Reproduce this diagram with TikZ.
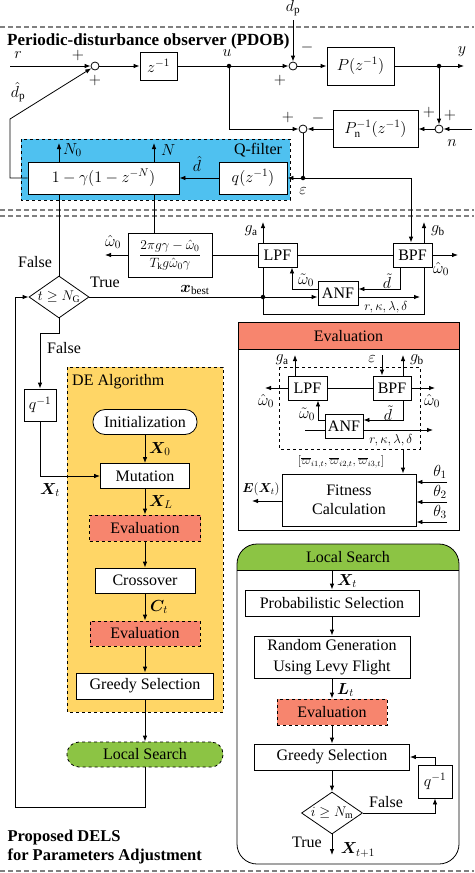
\RequirePackage{fix-cm}
\documentclass[tikz,border=0pt]{standalone}
\usepackage{amsmath}
\usepackage{amssymb}
\usepackage{bm}
\usepackage{fontspec}
\setmainfont{Liberation Serif}
\usetikzlibrary{arrows.meta}
\usetikzlibrary{shapes.geometric}
\usetikzlibrary{calc}
\definecolor{qblue}{RGB}{79,193,240}
\definecolor{deyel}{RGB}{255,214,102}
\definecolor{evred}{RGB}{247,133,110}
\definecolor{lsgreen}{RGB}{140,196,68}
\tikzset{
	wire/.style={line width=0.8pt},
	sig/.style={wire, ->},
	blk/.style={draw, fill=white, line width=0.8pt, inner sep=1pt},
	evalbox/.style={draw, dashed, fill=evred, line width=0.8pt, inner sep=1pt},
	sumpt/.style={circle, draw, fill=white, line width=0.8pt, inner sep=0pt, minimum size=8pt},
	dotpt/.style={circle, fill, inner sep=0pt, minimum size=4.5pt},
	cond/.style={diamond, draw, fill=white, aspect=1.45, inner sep=0pt, line width=0.8pt,
		font=\fontsize{14}{16}\selectfont},
	lbl/.style={inner sep=1pt},
	small/.style={inner sep=1pt, font=\fontsize{13}{15}\selectfont},
	divline/.style={gray, line width=1.2pt, dash pattern=on 5pt off 3pt},
	ttl/.style={anchor=west, align=left, font=\fontsize{16.5}{19.5}\selectfont\bfseries},
}
\newcommand{\pmsign}[4] % name, x in px, y in px, sign
{
	\node[inner sep=0pt] (#1) at (#2,#3) {$#4$};
}

\begin{document}
\begin{tikzpicture}[x=1pt, y=-1pt, font=\fontsize{16}{18}\selectfont,
	>={Latex[length=6pt,width=4.5pt]}]
	% 474 x 873 px, y downwards
	\useasboundingbox (0,0) rectangle (474,873);
	\draw[divline] (0,27) -- (474,27);
	\draw[divline] (0,210) -- (474,210);
	\draw[divline] (0,216) -- (474,216);
	\draw[divline] (0,871) -- (474,871);
	\node[ttl, anchor=base west, inner sep=0pt, font=\fontsize{17}{20}\selectfont\bfseries] (ttlA) at (7,45)
		{Periodic-disturbance observer (PDOB)};
	\node[ttl] (ttlB) at (4,847) {Proposed DELS\\for Parameters Adjustment};

	% Q-filter area
	\draw[fill=qblue, dashed, line width=0.8pt] (21,139) rectangle (290,200);
	\node[lbl] (qlbl) at (258,150) {Q-filter};

	% PDOB loop
	\node[sumpt] (sA) at (95,66) {};
	\node[blk, minimum width=37pt, minimum height=28pt] (zinv) at (158.5,66) {$z^{-1}$};
	\node[dotpt] (uD) at (229,66) {};
	\node[sumpt] (sB) at (293,66) {};
	\node[blk, minimum width=67pt, minimum height=38pt] (plant) at (360.5,66) {$P(z^{-1})$};
	\node[dotpt] (yD) at (439,66) {};
	\node[sumpt] (sC) at (439,129) {};
	\node[blk, minimum width=85pt, minimum height=37pt] (pninv) at (375.5,129) {$P_{\mathrm{n}}^{-1}(z^{-1})$};
	\node[sumpt] (sD) at (303,129) {};
	\node[dotpt] (eD) at (303,178) {};
	\node[blk, minimum width=68pt, minimum height=32pt] (qf) at (253,178) {$q(z^{-1})$};
	\node[blk, minimum width=151pt, minimum height=32pt] (gam) at (103.5,178) {$1-\gamma(1-z^{-N})$};
	\coordinate (rIn) at (10,66);
	\coordinate (dpIn) at (293,20);
	\coordinate (yOut) at (464,66);
	\coordinate (nIn) at (472,129);
	\coordinate (epsR) at (411,178);
	\coordinate (dpA) at (10,178);
	\coordinate (dpB) at (10,119);
	\coordinate (nzTop) at (59,143);
	\coordinate (nTop) at (154,143);
	\draw[sig] (rIn) -- (sA);
	\draw[sig] (sA) -- (zinv);
	\draw[wire] (zinv) -- (uD);
	\draw[sig] (uD) -- (sB);
	\draw[sig] (dpIn) -- (sB);
	\draw[sig] (sB) -- (plant);
	\draw[wire] (plant) -- (yD);
	\draw[sig] (yD) -- (yOut);
	\draw[sig] (yD) -- (sC);
	\draw[sig] (nIn) -- (sC);
	\draw[sig] (sC) -- (pninv);
	\draw[sig] (pninv) -- (sD);
	\draw[sig] (uD) |- (sD);
	\draw[wire] (sD) -- (eD);
	\draw[sig] (eD) -- (qf);
	\draw[sig] (qf) -- (gam);
	\draw[sig] (gam.west) -- (dpA) -- (dpB) -- (sA);
	\draw[sig] (gam.north -| nzTop) -- (nzTop);
	\draw[sig] (gam.north -| nTop) -- (nTop);
	\node[lbl] (rL) at (18,55) {$r$};
	\node[lbl] (uL) at (227,53) {$u$};
	\node[lbl] (yL) at (462,52) {$y$};
	\node[lbl] (dpL) at (293,8) {$d_{\mathrm{p}}$};
	\node[lbl] (nL) at (452,143) {$n$};
	\node[lbl] (eL) at (303,191) {$\varepsilon$};
	\node[lbl] (dhL) at (197,164) {$\hat{d}$};
	\node[lbl] (dphL) at (18,92) {$\hat{d}_{\mathrm{p}}$};
	\node[lbl, anchor=west] (nzL) at (62,150) {$N_0$};
	\node[lbl, anchor=west] (nL2) at (160,150) {$N$};
	\pmsign{pA1}{78}{55}{+}
	\pmsign{pA2}{95}{80}{+}
	\pmsign{pB1}{280}{80}{+}
	\pmsign{pB2}{307}{47}{-}
	\pmsign{pC1}{429}{112}{+}
	\pmsign{pC2}{450}{115}{+}
	\pmsign{pD1}{288}{117}{+}
	\pmsign{pD2}{318}{118}{-}

	% frequency estimation
	\node[blk, minimum width=84pt, minimum height=44pt, inner sep=0pt, font=\fontsize{13.5}{15}\selectfont] (frm) at (170,255)
		{$\dfrac{2\pi g\gamma-\hat{\omega}_0}{T_{\mathrm{k}}g\hat{\omega}_0\gamma}$};
	\coordinate (wOut) at (105,255);
	\draw[wire] (frm.north -| nTop) -- (gam.south -| nTop);
	\draw[sig] (frm.west) -- (wOut);
	\node[lbl] (wL) at (113,242) {$\hat{\omega}_0$};
	\draw[wire] (263,255) -- (263,314) -- (424,314) -- (424,255);
	\node[blk, minimum width=39pt, minimum height=24pt] (lpf) at (277.5,255) {LPF};
	\node[blk, minimum width=39pt, minimum height=24pt] (bpf) at (412.5,255) {BPF};
	\node[blk, minimum width=40pt, minimum height=24pt] (anf) at (338,293) {ANF};
	\coordinate (gaT) at (263,222);
	\coordinate (gbT) at (424,222);
	\coordinate (wOut2) at (458,255);
	\coordinate (dtB) at (400,289);
	\coordinate (wtB) at (292,289);
	\coordinate (rkOut) at (420,297);
	\draw[wire] (frm.east) -- (lpf.west);
	\draw[wire] (lpf) -- (bpf);
	\draw[sig] (lpf.north -| gaT) -- (gaT);
	\draw[sig] (bpf.north -| gbT) -- (gbT);
	\draw[sig] (eD) -- (epsR) -- (bpf.north -| epsR);
	\draw[sig] (bpf.east) -- (wOut2);
	\draw[sig] (bpf.south -| dtB) -- (dtB) -- (dtB -| anf.east);
	\draw[sig] (wtB -| anf.west) -- (wtB) -- (wtB |- lpf.south);
	\node[lbl] (gaL) at (251,231) {$g_{\mathrm{a}}$};
	\node[lbl] (gbL) at (438,231) {$g_{\mathrm{b}}$};
	\node[lbl] (wL2) at (441,269) {$\hat{\omega}_0$};
	\node[lbl, inner sep=0pt] (dtL) at (387,281) {$\tilde{d}$};
	\node[lbl] (wtL) at (306,280) {$\tilde{\omega}_0$};

	% generation check
	\node[cond, minimum width=60pt, minimum height=42pt] (d1) at (59,297) {$t\geq N_{\mathrm{G}}$};
	\node[dotpt] (xbD) at (263,297) {};
	\draw[sig] (d1.east) -- (d1.east -| anf.west);
	\draw[sig] (anf.east |- xbD) -- (rkOut);
	\draw[wire] (d1.north) -- (d1.north |- gam.south);
	\node[lbl, inner sep=0pt] (xbL) at (195,290) {$\bm{x}_{\mathrm{best}}$};
	\node[small] (rkL) at (386,307) {$r,\kappa,\lambda,\delta$};
	\node[lbl] (trL) at (105,282) {True};
	\node[lbl] (faL) at (35,262) {False};
	\node[blk, minimum width=32pt, minimum height=32pt] (qA) at (40,405) {$q^{-1}$};
	\coordinate (fA) at (59,333);
	\coordinate (fB) at (40,333);
	\draw[sig] (d1.south) -- (fA) -- (fB) -- (qA.north);
	\node[lbl] (faL2) at (64,348) {False};

	% DE algorithm
	\draw[fill=deyel, dashed, line width=0.8pt] (67,367) rectangle (223,712);
	\node[lbl, anchor=west] (deL) at (71,382) {DE Algorithm};
	\node[blk, rounded corners=12pt, minimum width=104pt, minimum height=25pt] (init) at (145,422) {Initialization};
	\node[blk, minimum width=89pt, minimum height=25pt] (mut) at (145,476) {Mutation};
	\node[evalbox, minimum width=111pt, minimum height=26pt] (evA) at (145,528) {Evaluation};
	\node[blk, minimum width=100pt, minimum height=25pt] (cross) at (145,580.5) {Crossover};
	\node[evalbox, minimum width=110pt, minimum height=25pt] (evB) at (145,633.5) {Evaluation};
	\node[blk, minimum width=137pt, minimum height=26pt] (grA) at (145,686) {Greedy Selection};
	\node[draw, dashed, fill=lsgreen, rounded corners=12pt, line width=0.8pt, minimum width=156pt,
		minimum height=25pt] (lsA) at (145,754.5) {Local Search};
	\coordinate (xtB) at (40,476);
	\coordinate (lpA) at (145,807);
	\coordinate (lpB) at (15,807);
	\coordinate (lpC) at (15,297);
	\draw[sig] (init) -- (mut);
	\draw[sig] (mut) -- (evA);
	\draw[sig] (evA) -- (cross);
	\draw[sig] (cross) -- (evB);
	\draw[sig] (evB) -- (grA);
	\draw[sig] (grA) -- (lsA);
	\draw[sig] (qA.south) -- (xtB) -- (mut.west);
	\draw[sig] (lsA.south) -- (lpA) -- (lpB) -- (lpC) -- (d1.west);
	\node[lbl, anchor=west] (x0L) at (148,449) {$\bm{X}_0$};
	\node[lbl, anchor=west] (xlL) at (148,502) {$\bm{X}_L$};
	\node[lbl, anchor=west] (ctL) at (149,607) {$\bm{C}_t$};
	\node[lbl] (xtL0) at (50,490) {$\bm{X}_t$};

	% evaluation
	\fill[evred] (238,322) rectangle (459,349);
	\draw[line width=0.8pt] (238,322) rectangle (459,530);
	\draw[line width=0.8pt] (238,349) -- (459,349);
	\node[lbl] (evT) at (348.5,336) {Evaluation};
	\draw[dashed, line width=0.8pt] (279,367) rectangle (420,449);
	\node[blk, minimum width=39pt, minimum height=24pt] (lpfE) at (307.5,388) {LPF};
	\node[blk, minimum width=38pt, minimum height=24pt] (bpfE) at (392,388) {BPF};
	\node[blk, minimum width=38pt, minimum height=24pt] (anfE) at (344,426) {ANF};
	\node[blk, align=center, minimum width=134pt, minimum height=52pt, font=\fontsize{16}{19}\selectfont]
		(fit) at (349,500) {Fitness\\Calculation};
	\coordinate (gaE) at (295,355);
	\coordinate (epE) at (382,355);
	\coordinate (gbE) at (403,355);
	\coordinate (wlE) at (265,388);
	\coordinate (wrE) at (435,388);
	\coordinate (dtE) at (403,420);
	\coordinate (wtE) at (318,420);
	\coordinate (inE) at (305,430);
	\coordinate (rkE) at (433,430);
	\coordinate (wbE) at (403,449);
	\coordinate (exE) at (252,501);
	\draw[wire] (lpfE) -- (bpfE);
	\draw[sig] (lpfE.north -| gaE) -- (gaE);
	\draw[sig] (epE) -- (bpfE.north -| epE);
	\draw[sig] (bpfE.north -| gbE) -- (gbE);
	\draw[sig] (lpfE.west) -- (wlE);
	\draw[sig] (bpfE.east) -- (wrE);
	\draw[sig] (bpfE.south -| dtE) -- (dtE) -- (dtE -| anfE.east);
	\draw[sig] (wtE -| anfE.west) -- (wtE) -- (wtE |- lpfE.south);
	\draw[wire] (inE) -- (inE -| anfE.west);
	\draw[sig] (anfE.east |- inE) -- (rkE);
	\draw[sig] (wbE) -- (fit.north -| wbE);
	\draw[sig] (exE -| fit.west) -- (exE);
	\foreach \k/\yy in {1/482,2/502,3/522}
	{
		\coordinate (th\k) at (447,\yy);
		\draw[sig] (th\k) -- (fit.east |- th\k);
		\node[lbl] (thL\k) at (440,\yy-10) {$\theta_\k$};
	}
	\node[lbl] (gaLE) at (282,360) {$g_{\mathrm{a}}$};
	\node[lbl] (epLE) at (372,359) {$\varepsilon$};
	\node[lbl] (gbLE) at (417,360) {$g_{\mathrm{b}}$};
	\node[lbl] (wlLE) at (266,401) {$\hat{\omega}_0$};
	\node[lbl] (wrLE) at (432,401) {$\hat{\omega}_0$};
	\node[lbl, inner sep=0pt] (dtLE) at (388,413) {$\tilde{d}$};
	\node[lbl] (wtLE) at (307,414) {$\tilde{\omega}_0$};
	\node[small] (rkLE) at (391,440) {$r,\kappa,\lambda,\delta$};
	\node[small, font=\fontsize{12}{14}\selectfont] (wbLE) at (341,462)
		{$[\overline{\varpi}_{i1,t},\overline{\varpi}_{i2,t},\overline{\varpi}_{i3,t}]$};
	\node[small] (exLE) at (261,489) {$\bm{E}(\bm{X}_t)$};

	% local search
	\begin{scope}
		\clip[rounded corners=20pt] (237,544) rectangle (459,864);
		\fill[lsgreen] (237,544) rectangle (459,570);
	\end{scope}
	\draw[rounded corners=20pt, line width=0.8pt] (237,544) rectangle (459,864);
	\draw[line width=0.8pt] (237,570) -- (459,570);
	\node[lbl] (lsT) at (348,557) {Local Search};
	\node[blk, minimum width=174pt, minimum height=26pt] (psel) at (332,603) {Probabilistic Selection};
	\node[blk, align=center, minimum width=156pt, minimum height=42pt, font=\fontsize{16}{20.5}\selectfont]
		(rgen) at (332,657) {Random Generation\\Using Levy Flight};
	\node[evalbox, minimum width=110pt, minimum height=26pt] (evC) at (332,712) {Evaluation};
	\node[blk, minimum width=155pt, minimum height=26pt] (grB) at (332,757) {Greedy Selection};
	\node[cond, minimum width=61pt, minimum height=42pt] (d2) at (332,813) {$i\geq N_{\mathrm{m}}$};
	\node[blk, minimum width=34pt, minimum height=33pt] (qB) at (435,781.5) {$q^{-1}$};
	\coordinate (xtIn) at (332,570);
	\coordinate (tEnd) at (332,855);
	\draw[sig] (xtIn) -- (psel);
	\draw[sig] (psel) -- (rgen);
	\draw[sig] (rgen) -- (evC);
	\draw[sig] (evC) -- (grB);
	\draw[sig] (grB) -- (d2);
	\draw[sig] (d2.east) -| (qB.south);
	\draw[sig] (qB.north) |- (grB.east);
	\draw[sig] (d2.south) -- (tEnd);
	\node[lbl, anchor=west] (xtL) at (336,581) {$\bm{X}_t$};
	\node[lbl, anchor=west] (ltL) at (336,690) {$\bm{L}_t$};
	\node[lbl] (faL3) at (386,802) {False};
	\node[lbl] (trL2) at (307,842) {True};
	\node[lbl] (xnL) at (358,850) {$\bm{X}_{t+1}$};
\end{tikzpicture}
\end{document}
